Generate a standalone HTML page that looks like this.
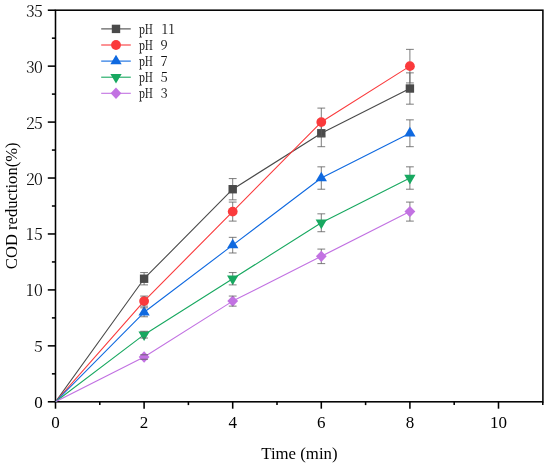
<!DOCTYPE html>
<html lang="en"><head><meta charset="utf-8"><title>COD reduction vs Time</title>
<style>
html,body{margin:0;padding:0;background:#fff;}
body{width:550px;height:467px;overflow:hidden;}
svg{display:block;}
.t{font-family:"Liberation Serif",serif;font-size:16.6px;fill:#000;}
.s{font-family:"Noto Serif CJK SC","Liberation Serif",serif;font-weight:400;font-size:15.8px;fill:#111;}
</style></head><body>
<svg width="550" height="467" viewBox="0 0 550 467">
<rect width="550" height="467" fill="#fff"/>
<g stroke="#000" stroke-width="1.55" fill="none" stroke-linecap="butt">
<rect x="55.5" y="10.2" width="487.40" height="391.60"/>
<line x1="55.50" y1="401.8" x2="55.50" y2="408.70"/>
<line x1="99.80" y1="401.8" x2="99.80" y2="405.10"/>
<line x1="144.10" y1="401.8" x2="144.10" y2="408.70"/>
<line x1="188.40" y1="401.8" x2="188.40" y2="405.10"/>
<line x1="232.70" y1="401.8" x2="232.70" y2="408.70"/>
<line x1="277.00" y1="401.8" x2="277.00" y2="405.10"/>
<line x1="321.30" y1="401.8" x2="321.30" y2="408.70"/>
<line x1="365.60" y1="401.8" x2="365.60" y2="405.10"/>
<line x1="409.90" y1="401.8" x2="409.90" y2="408.70"/>
<line x1="454.20" y1="401.8" x2="454.20" y2="405.10"/>
<line x1="498.50" y1="401.8" x2="498.50" y2="408.70"/>
<line x1="542.80" y1="401.8" x2="542.80" y2="405.10"/>
<line x1="55.5" y1="401.80" x2="47.80" y2="401.80"/>
<line x1="55.5" y1="373.83" x2="51.90" y2="373.83"/>
<line x1="55.5" y1="345.86" x2="47.80" y2="345.86"/>
<line x1="55.5" y1="317.89" x2="51.90" y2="317.89"/>
<line x1="55.5" y1="289.91" x2="47.80" y2="289.91"/>
<line x1="55.5" y1="261.94" x2="51.90" y2="261.94"/>
<line x1="55.5" y1="233.97" x2="47.80" y2="233.97"/>
<line x1="55.5" y1="206.00" x2="51.90" y2="206.00"/>
<line x1="55.5" y1="178.03" x2="47.80" y2="178.03"/>
<line x1="55.5" y1="150.06" x2="51.90" y2="150.06"/>
<line x1="55.5" y1="122.09" x2="47.80" y2="122.09"/>
<line x1="55.5" y1="94.11" x2="51.90" y2="94.11"/>
<line x1="55.5" y1="66.14" x2="47.80" y2="66.14"/>
<line x1="55.5" y1="38.17" x2="51.90" y2="38.17"/>
<line x1="55.5" y1="10.20" x2="47.80" y2="10.20"/>
</g>
<defs><clipPath id="pc"><rect x="55.5" y="10.2" width="487.40" height="391.60"/></clipPath></defs>
<g clip-path="url(#pc)">
<g>
<path d="M55.50,401.80 L144.10,278.73 L232.70,189.22 L321.30,133.27 L409.90,88.52" fill="none" stroke="#4a4a4a" stroke-width="1.1" stroke-linejoin="round"/>
<path d="M144.10,272.57V284.88M232.70,178.59V199.85M321.30,119.85V146.70M409.90,72.86V104.18" fill="none" stroke="#5c5c5c" stroke-width="0.8"/>
<rect x="139.90" y="274.53" width="8.4" height="8.4" fill="#4a4a4a"/>
<rect x="228.50" y="185.02" width="8.4" height="8.4" fill="#4a4a4a"/>
<rect x="317.10" y="129.07" width="8.4" height="8.4" fill="#4a4a4a"/>
<rect x="405.70" y="84.32" width="8.4" height="8.4" fill="#4a4a4a"/>
<path d="M140.20,272.57H148.00M140.20,284.88H148.00M228.80,178.59H236.60M228.80,199.85H236.60M317.40,119.85H325.20M317.40,146.70H325.20M406.00,72.86H413.80M406.00,104.18H413.80" fill="none" stroke="#5c5c5c" stroke-width="0.8"/>
</g>
<g>
<path d="M55.50,401.80 L144.10,301.10 L232.70,211.59 L321.30,122.09 L409.90,66.14" fill="none" stroke="#FA3A3C" stroke-width="1.1" stroke-linejoin="round"/>
<path d="M144.10,296.07V306.14M232.70,202.08V221.10M321.30,108.10V136.07M409.90,49.36V82.93" fill="none" stroke="#5c5c5c" stroke-width="0.8"/>
<circle cx="144.10" cy="301.10" r="4.9" fill="#FA3A3C"/>
<circle cx="232.70" cy="211.59" r="4.9" fill="#FA3A3C"/>
<circle cx="321.30" cy="122.09" r="4.9" fill="#FA3A3C"/>
<circle cx="409.90" cy="66.14" r="4.9" fill="#FA3A3C"/>
<path d="M140.20,296.07H148.00M140.20,306.14H148.00M228.80,202.08H236.60M228.80,221.10H236.60M317.40,108.10H325.20M317.40,136.07H325.20M406.00,49.36H413.80M406.00,82.93H413.80" fill="none" stroke="#5c5c5c" stroke-width="0.8"/>
</g>
<g>
<path d="M55.50,401.80 L144.10,312.29 L232.70,245.16 L321.30,178.03 L409.90,133.27" fill="none" stroke="#0F69E0" stroke-width="1.1" stroke-linejoin="round"/>
<path d="M144.10,307.82V316.77M232.70,237.33V252.99M321.30,166.84V189.22M409.90,119.85V146.70" fill="none" stroke="#5c5c5c" stroke-width="0.8"/>
<polygon points="144.10,305.89 149.75,315.49 138.45,315.49" fill="#0F69E0"/>
<polygon points="232.70,238.76 238.35,248.36 227.05,248.36" fill="#0F69E0"/>
<polygon points="321.30,171.63 326.95,181.23 315.65,181.23" fill="#0F69E0"/>
<polygon points="409.90,126.87 415.55,136.47 404.25,136.47" fill="#0F69E0"/>
<path d="M140.20,307.82H148.00M140.20,316.77H148.00M228.80,237.33H236.60M228.80,252.99H236.60M317.40,166.84H325.20M317.40,189.22H325.20M406.00,119.85H413.80M406.00,146.70H413.80" fill="none" stroke="#5c5c5c" stroke-width="0.8"/>
</g>
<g>
<path d="M55.50,401.80 L144.10,334.67 L232.70,278.73 L321.30,222.78 L409.90,178.03" fill="none" stroke="#18A860" stroke-width="1.1" stroke-linejoin="round"/>
<path d="M144.10,331.31V338.03M232.70,272.57V284.88M321.30,213.83V231.73M409.90,166.84V189.22" fill="none" stroke="#5c5c5c" stroke-width="0.8"/>
<polygon points="144.10,341.07 149.75,331.47 138.45,331.47" fill="#18A860"/>
<polygon points="232.70,285.13 238.35,275.53 227.05,275.53" fill="#18A860"/>
<polygon points="321.30,229.18 326.95,219.58 315.65,219.58" fill="#18A860"/>
<polygon points="409.90,184.43 415.55,174.83 404.25,174.83" fill="#18A860"/>
<path d="M140.20,331.31H148.00M140.20,338.03H148.00M228.80,272.57H236.60M228.80,284.88H236.60M317.40,213.83H325.20M317.40,231.73H325.20M406.00,166.84H413.80M406.00,189.22H413.80" fill="none" stroke="#5c5c5c" stroke-width="0.8"/>
</g>
<g>
<path d="M55.50,401.80 L144.10,357.05 L232.70,301.10 L321.30,256.35 L409.90,211.59" fill="none" stroke="#C272E2" stroke-width="1.1" stroke-linejoin="round"/>
<path d="M144.10,354.81V359.28M232.70,296.07V306.14M321.30,249.08V263.62M409.90,202.08V221.10" fill="none" stroke="#5c5c5c" stroke-width="0.8"/>
<polygon points="144.10,351.35 149.50,357.05 144.10,362.75 138.70,357.05" fill="#C272E2"/>
<polygon points="232.70,295.40 238.10,301.10 232.70,306.80 227.30,301.10" fill="#C272E2"/>
<polygon points="321.30,250.65 326.70,256.35 321.30,262.05 315.90,256.35" fill="#C272E2"/>
<polygon points="409.90,205.89 415.30,211.59 409.90,217.29 404.50,211.59" fill="#C272E2"/>
<path d="M140.20,354.81H148.00M140.20,359.28H148.00M228.80,296.07H236.60M228.80,306.14H236.60M317.40,249.08H325.20M317.40,263.62H325.20M406.00,202.08H413.80M406.00,221.10H413.80" fill="none" stroke="#5c5c5c" stroke-width="0.8"/>
</g>
</g>
<text class="t" style="font-size:17px" x="55.50" y="428.4" text-anchor="middle">0</text>
<text class="t" style="font-size:17px" x="144.10" y="428.4" text-anchor="middle">2</text>
<text class="t" style="font-size:17px" x="232.70" y="428.4" text-anchor="middle">4</text>
<text class="t" style="font-size:17px" x="321.30" y="428.4" text-anchor="middle">6</text>
<text class="t" style="font-size:17px" x="409.90" y="428.4" text-anchor="middle">8</text>
<text class="t" style="font-size:17px" x="498.50" y="428.4" text-anchor="middle">10</text>
<text class="t" style="font-size:17px" x="42.7" y="407.90" text-anchor="end">0</text>
<text class="s" x="33.93" y="352.36">5</text>
<text class="s" x="25.93 33.93" y="296.41">10</text>
<text class="s" x="25.93 33.93" y="240.47">15</text>
<text class="s" x="25.93 33.93" y="184.53">20</text>
<text class="s" x="25.93 33.93" y="128.59">25</text>
<text class="s" x="25.93 33.93" y="72.64">30</text>
<text class="s" x="25.93 33.93" y="16.70">35</text>
<text class="t" style="font-size:16.8px" x="299.4" y="458.8" text-anchor="middle">Time (min)</text>
<text class="t" transform="translate(17.2,205.8) rotate(-90)" text-anchor="middle">COD reduction(%)</text>
<line x1="101.2" y1="28.9" x2="130.8" y2="28.9" stroke="#4a4a4a" stroke-width="1.1"/>
<rect x="111.80" y="24.70" width="8.4" height="8.4" fill="#4a4a4a"/>
<text class="s" style="font-size:13.1px" x="138.7" y="33.55" xml:space="preserve"><tspan textLength="14.2" lengthAdjust="spacingAndGlyphs" font-weight="500">pH</tspan> <tspan x="161.18 168.03">11</tspan></text>
<line x1="101.2" y1="45.0" x2="130.8" y2="45.0" stroke="#FA3A3C" stroke-width="1.1"/>
<circle cx="116.00" cy="45.00" r="4.9" fill="#FA3A3C"/>
<text class="s" style="font-size:13.1px" x="138.7" y="49.65" xml:space="preserve"><tspan textLength="14.2" lengthAdjust="spacingAndGlyphs" font-weight="500">pH</tspan> <tspan x="160.58">9</tspan></text>
<line x1="101.2" y1="61.1" x2="130.8" y2="61.1" stroke="#0F69E0" stroke-width="1.1"/>
<polygon points="116.00,54.70 121.65,64.30 110.35,64.30" fill="#0F69E0"/>
<text class="s" style="font-size:13.1px" x="138.7" y="65.75" xml:space="preserve"><tspan textLength="14.2" lengthAdjust="spacingAndGlyphs" font-weight="500">pH</tspan> <tspan x="160.58">7</tspan></text>
<line x1="101.2" y1="77.2" x2="130.8" y2="77.2" stroke="#18A860" stroke-width="1.1"/>
<polygon points="116.00,83.60 121.65,74.00 110.35,74.00" fill="#18A860"/>
<text class="s" style="font-size:13.1px" x="138.7" y="81.85" xml:space="preserve"><tspan textLength="14.2" lengthAdjust="spacingAndGlyphs" font-weight="500">pH</tspan> <tspan x="160.58">5</tspan></text>
<line x1="101.2" y1="93.3" x2="130.8" y2="93.3" stroke="#C272E2" stroke-width="1.1"/>
<polygon points="116.00,87.60 121.40,93.30 116.00,99.00 110.60,93.30" fill="#C272E2"/>
<text class="s" style="font-size:13.1px" x="138.7" y="97.95" xml:space="preserve"><tspan textLength="14.2" lengthAdjust="spacingAndGlyphs" font-weight="500">pH</tspan> <tspan x="160.58">3</tspan></text>
</svg></body></html>
